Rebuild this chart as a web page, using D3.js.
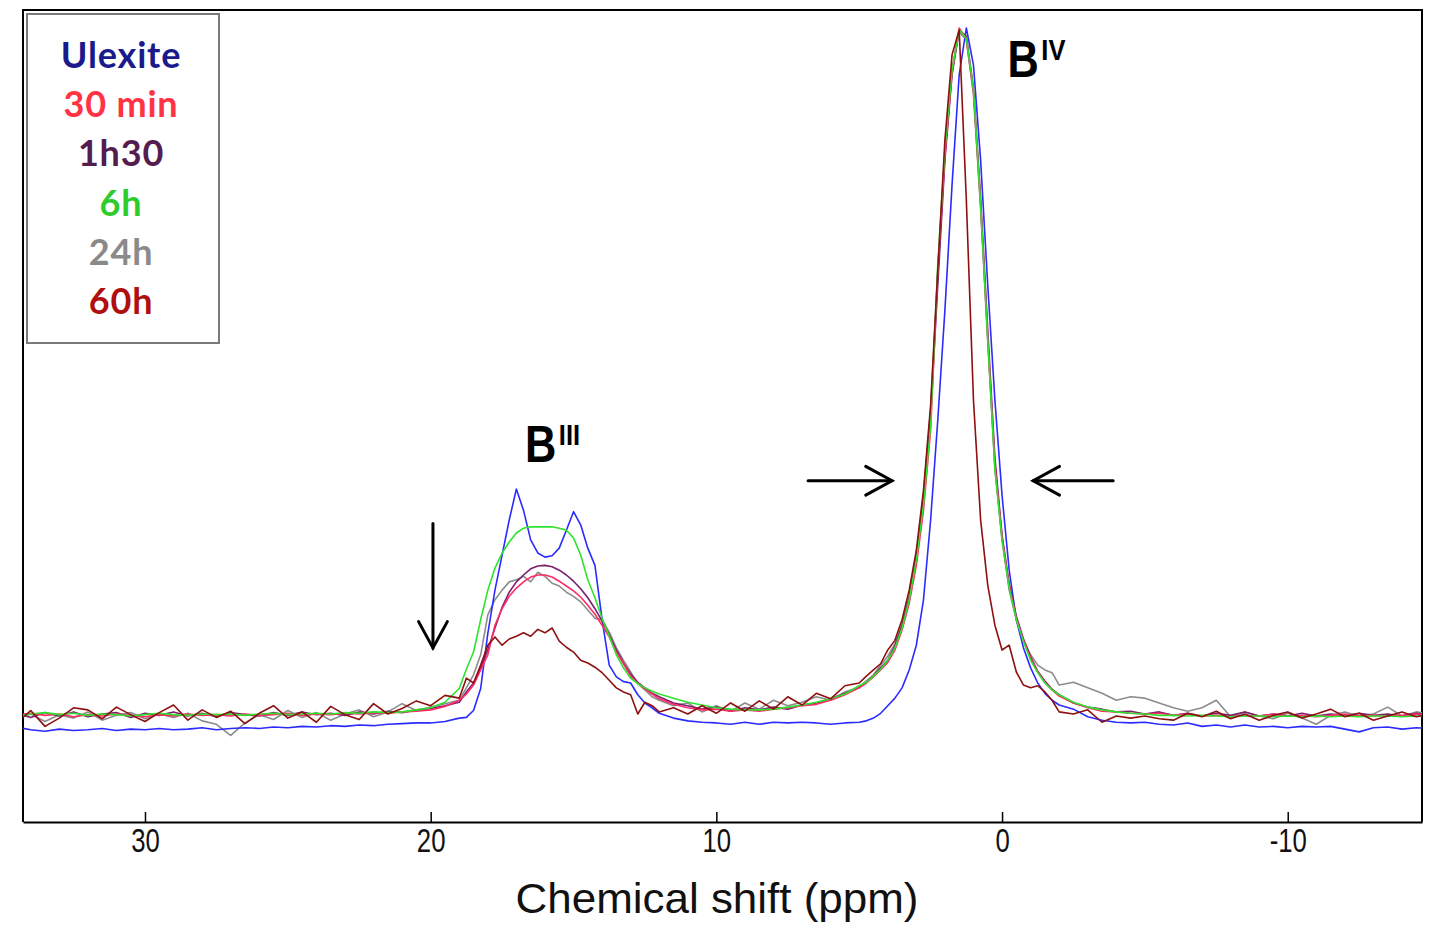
<!DOCTYPE html>
<html><head><meta charset="utf-8">
<script src="https://cdn.jsdelivr.net/npm/d3@7"></script>
<style>body{margin:0;background:#fff}svg{display:block}</style>
</head><body><svg id="c" width="1434" height="926"></svg>
<script>
// chemical shift grid (ppm)
const ppm = [34.5,34,33.5,33,32.5,32,31.5,31,30.5,30,29.5,29,28.5,28,27.5,27,26.5,26,25.5,25,24.5,24,23.5,23,22.5,22,21.5,21,20.5,20,19.5,19,
18.75,18.5,18.25,18,17.75,17.5,17.25,17,16.75,16.5,16.25,16,15.75,15.5,15.25,15,14.75,14.5,14.25,14,13.75,13.5,13.25,13,12.75,12.5,12.25,12,
11.5,11,10.5,10,9.5,9,8.5,8,7.5,7,6.5,6,5.5,5,
4.75,4.5,4.25,4,3.75,3.5,3.25,3,2.75,2.5,2.25,2,1.75,1.5,1.25,1,0.75,0.5,0.25,0,-0.25,-0.5,-0.75,-1,-1.25,-1.5,-1.75,-2,
-2.5,-3,-3.5,-4,-4.5,-5,-5.5,-6,-6.5,-7,-7.5,-8,-8.5,-9,-9.5,-10,-10.5,-11,-11.5,-12,-12.5,-13,-13.5,-14,-14.5,-15];

const ulexite = [-1.6,-2.0,-2.2,-1.9,-2.1,-2.0,-1.8,-2.1,-1.9,-2.0,-1.8,-2.0,-1.9,-1.7,-2.0,-1.8,-1.7,-1.8,-1.6,-1.7,-1.5,-1.6,-1.4,-1.5,-1.3,-1.4,-1.2,-1.1,-1.0,-1.0,-0.8,-0.3,
-0.2,0.8,4.0,12.0,18.3,23.4,28.5,33.0,29.9,25.6,23.7,23.1,23.3,24.4,27.0,29.7,27.8,24.4,21.9,14.0,7.4,5.7,5.0,4.8,3.1,1.9,1.2,0.4,
-0.3,-0.7,-0.9,-1.0,-1.2,-0.9,-1.2,-0.9,-1.0,-0.9,-1.0,-1.2,-1.0,-0.9,
-0.7,-0.3,0.4,1.5,2.6,4.1,6.7,10.3,16.9,28.5,43.0,59.0,77.2,93.2,100,94.6,80.8,62.6,45.9,32.1,21.2,14.0,9.9,7.0,4.8,3.3,2.3,1.6,
1.0,-0.1,-0.6,-0.9,-1.0,-0.9,-1.2,-1.3,-1.0,-1.5,-1.3,-1.6,-1.3,-1.6,-1.5,-1.7,-1.5,-1.6,-1.5,-1.9,-2.3,-1.7,-1.6,-1.9,-1.7,-1.8];

const min30 = [0.2,0.4,0.1,0.3,-0.1,0.2,0.0,0.3,0.1,-0.1,0.2,0.0,0.3,0.1,0.2,0.0,0.3,0.1,0.2,0.4,0.1,0.3,0.2,0.4,0.3,0.5,0.4,0.6,0.7,0.9,1.4,2.3,
3.2,4.5,6.7,8.9,13.2,15.6,17.4,18.6,19.5,20.2,20.5,20.5,20.2,19.6,18.9,18.2,17.3,16.1,14.8,13.2,11.5,9.3,7.6,5.8,4.8,3.9,3.2,2.5,
1.7,1.2,0.9,1.0,0.7,0.9,0.7,1.0,1.2,1.5,1.7,2.3,3.1,4.1,
4.8,5.7,6.7,7.8,9.6,12.5,16.4,21.9,29.9,41.6,64.8,81.5,93.6,100,98.3,90.7,74.3,54.9,36.5,25.9,18.9,14.2,11.0,8.4,6.4,4.9,3.8,2.9,
1.9,1.2,0.7,0.6,0.4,0.3,0.4,0.1,0.3,0.0,0.1,-0.1,0.1,0.0,0.3,0.0,0.1,-0.1,0.1,0.3,0.0,0.1,0.0,0.1,0.3,0.1];

const h1h30 = [0.4,-0.2,0.5,0.0,0.6,-0.1,0.3,0.5,-0.2,0.4,0.1,0.6,0.0,0.4,-0.1,0.5,0.2,0.0,0.5,0.1,0.6,0.2,0.4,0.1,0.6,0.3,0.7,0.5,0.9,1.1,1.5,2.0,
3.5,4.8,7.0,9.6,12.8,15.8,18.0,19.5,20.5,21.4,21.8,21.9,21.7,21.2,20.5,19.6,18.5,17.2,15.6,13.8,11.8,9.6,7.7,6.1,4.9,4.1,3.3,2.8,
1.9,1.5,1.0,1.3,0.7,1.2,0.9,1.3,1.0,1.6,1.9,2.5,3.3,4.2,
4.9,5.8,7.0,8.1,10.2,13.1,17.2,23.0,31.4,43.8,62.6,80.8,93.2,99.7,98.8,91.3,75.3,56.1,37.5,26.3,19.2,14.5,11.2,8.6,6.5,5.1,3.9,3.1,
1.9,1.3,1.0,0.6,0.7,0.3,0.6,0.1,0.4,0.0,0.4,0.1,0.6,0.0,0.3,0.0,0.4,0.0,0.3,0.0,0.4,0.1,0.3,0.0,0.4,0.1];

const h6 = [0.0,0.3,0.5,0.2,0.4,0.1,0.3,0.2,0.0,0.2,0.4,0.2,0.1,0.3,0.2,0.3,0.1,0.3,0.4,0.2,0.3,0.4,0.3,0.5,0.4,0.6,0.5,0.6,0.9,1.2,2.0,4.0,
6.8,9.3,14.0,18.3,21.5,23.7,25.3,26.6,27.3,27.5,27.5,27.5,27.5,27.3,27.0,25.9,23.4,19.8,17.2,14.2,11.6,8.9,7.0,5.5,4.7,4.1,3.6,3.2,
2.6,2.0,1.6,1.2,1.0,0.9,0.9,1.0,1.3,1.6,2.0,2.5,3.2,4.4,
4.9,5.8,6.8,8.1,9.9,12.8,16.9,22.7,30.7,42.3,65.6,82.3,93.9,99.7,98.5,91.0,74.3,54.7,35.8,25.6,18.6,14.0,10.8,8.1,6.3,4.8,3.8,3.1,
2.0,1.3,0.9,0.6,0.4,0.3,0.1,0.1,0.0,0.1,0.0,-0.1,0.0,0.0,-0.1,0.0,-0.1,0.0,-0.1,0.0,-0.1,0.0,0.0,-0.1,0.0,0.0];

const h24 = [-0.5,0.3,-0.8,0.2,-0.3,0.6,-0.6,0.1,0.5,-0.4,0.3,-0.2,0.4,-0.7,-1.2,-2.8,-1.0,0.2,-0.5,0.8,-0.2,0.5,-0.6,0.3,0.9,-0.1,0.6,1.8,0.8,1.3,1.8,2.3,
4.1,6.0,8.9,14.7,16.9,18.3,19.5,19.8,20.3,19.5,20.9,20.3,19.3,18.9,18.0,17.4,16.6,15.4,14.2,14.0,12.2,9.9,8.1,6.4,4.7,3.8,2.8,2.3,
1.5,1.9,0.6,1.5,0.7,1.9,1.0,2.3,1.5,2.0,2.8,2.3,3.5,4.2,
5.1,6.0,7.4,8.7,10.5,13.4,17.4,23.4,32.1,44.5,64.1,81.5,93.9,99.4,98.3,90.3,73.8,54.4,36.0,25.6,18.3,14.0,11.0,8.9,7.4,6.7,6.3,4.5,
4.9,4.1,3.3,2.3,2.8,2.6,1.9,1.2,0.7,1.2,2.3,-0.1,0.6,0.0,-0.4,0.4,-0.3,-1.2,0.1,0.6,0.0,0.3,1.3,0.0,0.6,0.3];

const h60 = [-1.0,0.8,-1.5,-0.3,1.2,0.9,-0.4,1.3,0.2,-0.8,0.5,1.6,-0.6,0.9,-0.2,0.7,-1.1,0.4,1.5,-0.3,0.6,-0.9,1.4,0.2,-0.5,1.8,0.3,1.1,2.2,1.5,3.0,2.6,
5.5,4.8,7.4,10.3,11.5,10.3,11.2,11.6,12.1,11.6,12.6,12.1,12.8,10.9,10.0,9.3,8.1,7.7,7.1,6.3,5.2,4.1,3.5,3.1,0.3,2.0,1.5,0.6,
1.2,0.3,1.5,0.4,1.9,0.7,2.2,1.0,2.8,1.6,3.3,2.5,4.4,4.8,
5.8,6.7,7.6,9.6,11.0,14.0,18.3,24.1,32.8,45.2,64.8,83.7,96.1,99.7,75.0,45.9,28.5,19.0,13.2,9.6,10.3,6.4,4.5,4.1,4.4,3.5,2.3,0.6,
0.3,0.9,-0.9,0.0,-0.3,0.0,-0.4,-0.6,0.4,-0.1,0.7,-0.4,0.3,-0.6,0.1,0.6,-0.3,0.3,1.0,-0.1,0.4,-0.6,0.0,0.6,-0.1,0.3];

const seriesNames = ["Ulexite","30 min","1h30","6h","24h","60h"];
const seriesValues = [ulexite, min30, h1h30, h6, h24, h60];
const lineColors = ["#2b2bff","#ff2a66","#7a1f6e","#2ee22e","#8c8c8c","#8e1010"];
const legendColors = ["#1a1a8c","#ff3344","#551c50","#2ccc2c","#8a8a8a","#b00f0f"];
const drawOrder = [4,0,2,1,3,5];
const tickValues = [30,20,10,0,-10];
const axisTitle = "Chemical shift (ppm)";

const svg = d3.select("#c");
const L = 23, R = 1422, T = 10, B = 822;
const x = d3.scaleLinear().domain([34.27,-14.7]).range([L,R]);
const y = d3.scaleLinear().domain([-15.4,100]).range([B,28]);

svg.append("defs").append("clipPath").attr("id","clip")
  .append("rect").attr("x",L).attr("y",T).attr("width",R-L).attr("height",B-T);

// frame
svg.append("path").attr("d",`M${L},${B}V${T}H${R}V${B}`).attr("fill","none")
  .attr("stroke","#000").attr("stroke-width",2);

// lines
const line = d3.line().x((d,i)=>x(ppm[i])).y(d=>y(d));
const gl = svg.append("g").attr("clip-path","url(#clip)");
drawOrder.forEach(k=>{
  gl.append("path").datum(seriesValues[k]).attr("d",line)
    .attr("fill","none").attr("stroke",lineColors[k]).attr("stroke-width",1.6)
    .attr("stroke-linejoin","round");
});

// axis
const ax = svg.append("g").attr("transform",`translate(0,${B})`)
  .call(d3.axisBottom(x).tickValues(tickValues).tickSize(-10).tickSizeOuter(0).tickPadding(7)
    .tickFormat(d=> d<0 ? "-"+Math.abs(d) : String(d)));
ax.select(".domain").attr("stroke","#000").attr("stroke-width",2);
ax.selectAll(".tick line").attr("stroke","#000").attr("stroke-width",1.5);
ax.selectAll(".tick text").attr("font-family","Liberation Sans, Arial, sans-serif")
  .attr("font-size",33).attr("fill","#111").attr("transform","scale(0.78,1)");

svg.append("text").attr("x",717).attr("y",913).attr("text-anchor","middle")
  .attr("font-family","Liberation Sans, Arial, sans-serif").attr("font-size",42)
  .attr("textLength",403).attr("lengthAdjust","spacingAndGlyphs").attr("fill","#111")
  .text(axisTitle);

// peak labels
function peakLabel(p, v, sup){
  const t = svg.append("text")
    .attr("transform",`translate(${x(p)},${y(v)}) scale(0.85,1)`)
    .attr("font-family","Liberation Sans, Arial, sans-serif").attr("font-weight","bold")
    .attr("font-size",51).attr("fill","#000");
  t.append("tspan").text("B");
  t.append("tspan").attr("font-size",30).attr("dy",-17).attr("dx",3).text(sup);
}
peakLabel(16.7, 36.9, "III");
peakLabel(-0.19, 92.9, "IV");

// arrows
const ag = svg.append("g").attr("stroke","#000").attr("stroke-width",3).attr("fill","none")
  .attr("stroke-linecap","round");
function arrow(x1,y1,x2,y2){
  const ang = Math.atan2(y2-y1,x2-x1), len = 30, spread = 0.5;
  ag.append("line").attr("x1",x1).attr("y1",y1).attr("x2",x2).attr("y2",y2);
  ag.append("path").attr("d",
    `M${x2-len*Math.cos(ang-spread)},${y2-len*Math.sin(ang-spread)}L${x2},${y2}L${x2-len*Math.cos(ang+spread)},${y2-len*Math.sin(ang+spread)}`);
}
arrow(x(19.92), y(28.0), x(19.92), y(9.9));
arrow(x(6.79), y(34.2), x(3.85), y(34.2));
arrow(x(-3.89), y(34.2), x(-1.09), y(34.2));

// legend
const lg = svg.append("g");
lg.append("rect").attr("x",27).attr("y",14).attr("width",192).attr("height",329)
  .attr("fill","#fff").attr("stroke","#7a7a7a").attr("stroke-width",2);
seriesNames.forEach((n,i)=>{
  lg.append("text").attr("x",121).attr("y",68+i*49.2).attr("text-anchor","middle")
    .attr("font-family","Lato, 'Open Sans', sans-serif").attr("font-weight","bold")
    .attr("font-size",36).attr("letter-spacing",0.8).attr("fill",legendColors[i]).text(n);
});
</script></body></html>
